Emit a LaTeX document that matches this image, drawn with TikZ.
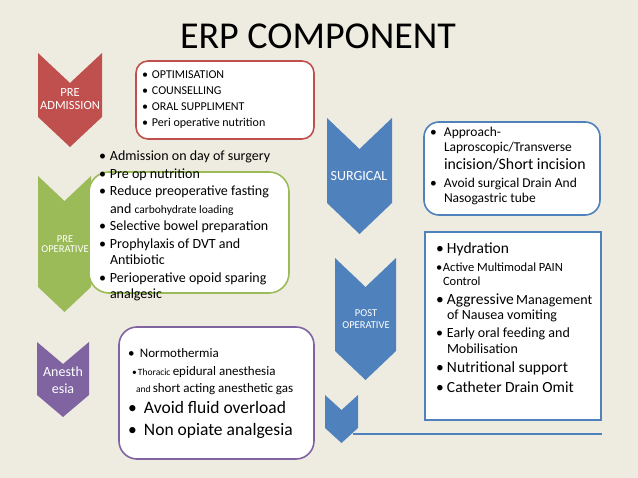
\documentclass[tikz,border=0pt]{standalone}
\usepackage{fontspec}
\setmainfont{Carlito}
\definecolor{bg}{HTML}{EEECE1}
\definecolor{cred}{HTML}{C0504D}
\definecolor{cgreen}{HTML}{9BBB59}
\definecolor{cpurple}{HTML}{8064A2}
\definecolor{cblue}{HTML}{4F81BD}
\newcommand\fs[1]{\fontsize{#1}{#1}\selectfont}
\newcommand\bul[1]{\makebox[#1pt][l]{\textbullet}}
\newcommand\mychev[6]{% x1 x2 ytop ybot depth color
  \fill[#6] (#1,#3) -- ({(#1+#2)/2},{#3+#5}) -- (#2,#3) -- (#2,{#4-#5})
    -- ({(#1+#2)/2},#4) -- (#1,{#4-#5}) -- cycle;}
\begin{document}
\begin{tikzpicture}[x=1pt,y=-1pt,
  ln/.style={anchor=base west, inner sep=0pt, outer sep=0pt, text=black},
  chevtxt/.style={anchor=base, inner sep=0pt, outer sep=0pt, text=white},
  panel/.style={draw=#1, line width=1.6pt, fill=white}]
\fill[bg] (0,0) rectangle (638,478);
\useasboundingbox (0,0) rectangle (638,478);

% title
\node[anchor=base, inner sep=0pt] (title) at (318,49) {\fs{38}ERP COMPONENT};

% chevrons
\mychev{38}{102}{53}{147}{30}{cred}
\mychev{38}{91}{176}{312}{25}{cgreen}
\mychev{37}{89}{342}{417}{22}{cpurple}
\mychev{327}{392}{118}{234}{31}{cblue}
\mychev{335}{396}{258}{380}{29}{cblue}
\mychev{325}{358}{395}{443}{15}{cblue}

% panels
\draw[panel=cred, rounded corners=12pt] (136,61) rectangle (314,139);
\draw[panel=cgreen, rounded corners=20pt] (89,172) rectangle (289,293);
\draw[panel=cpurple, rounded corners=18pt] (119,327) rectangle (314,459);
\draw[panel=cblue, rounded corners=15pt] (424,122) rectangle (600,215);
\draw[panel=cblue] (425,232) rectangle (601,420);
\coordinate (lineA) at (353,434);
\coordinate (lineB) at (602,434);
\draw[cblue, line width=1.6pt] (lineA) -- (lineB);

% chevron labels
\node[chevtxt] (pa1) at (70,97) {\fs{12.5}PRE};
\node[chevtxt] (pa2) at (70,110) {\fs{12.5}ADMISSION};
\node[chevtxt] (po1) at (65,242.5) {\fs{10.5}PRE};
\node[chevtxt] (po2) at (65,253) {\fs{10.5}OPERATIVE};
\node[chevtxt] (an1) at (63,377) {\fs{14}Anesth};
\node[chevtxt] (an2) at (63,394) {\fs{14}esia};
\node[chevtxt] (su1) at (359,181) {\fs{14}SURGICAL};
\node[chevtxt] (pt1) at (366,317) {\fs{10.5}POST};
\node[chevtxt] (pt2) at (366,329) {\fs{10.5}OPERATIVE};

% red panel text
\node[ln] (r1) at (142,79) {\fs{12}\bul{10}OPTIMISATION};
\node[ln] (r2) at (142,95) {\fs{12}\bul{10}COUNSELLING};
\node[ln] (r3) at (142,111) {\fs{12}\bul{10}ORAL SUPPLIMENT};
\node[ln] (r4) at (142,127) {\fs{12}\bul{10}Peri operative nutrition};

% green panel text
\node[ln] (g1) at (99,160.5) {\fs{14}\bul{11}Admission on day of surgery};
\node[ln] (g2) at (99,178.5) {\fs{14}\bul{11}Pre op nutrition};
\node[ln] (g3) at (99,196) {\fs{14}\bul{11}Reduce preoperative fasting};
\node[ln] (g4) at (110,213.5) {\fs{14}and {\fs{11.5}carbohydrate loading}};
\node[ln] (g5) at (99,230.5) {\fs{14}\bul{11}Selective bowel preparation};
\node[ln] (g6) at (99,248.5) {\fs{14}\bul{11}Prophylaxis of DVT and};
\node[ln] (g7) at (110,264.5) {\fs{14}Antibiotic};
\node[ln] (g8) at (99,282.5) {\fs{14}\bul{11}Perioperative opoid sparing};
\node[ln] (g9) at (110,298.5) {\fs{14}analgesic};

% purple panel text
\node[ln] (p1) at (128,358) {\fs{13}\bul{12}Normothermia};
\node[ln] (p2) at (132,376) {{\fs{9.5}\bul{6}Thoracic} {\fs{13}epidural anesthesia}};
\node[ln] (p3) at (136,393) {{\fs{9.5}and} {\fs{13}short acting anesthetic gas}};
\node[ln] (p4) at (128,414) {\fs{17.5}\bul{16}Avoid fluid overload};
\node[ln] (p5) at (128,436) {\fs{17.5}\bul{16}Non opiate analgesia};

% surgical panel text
\node[ln] (s1) at (430,137) {\fs{13.5}\bul{14}Approach-};
\node[ln] (s2) at (444,152) {\fs{13.5}Laproscopic/Transverse};
\node[ln] (s3) at (444,170) {\fs{15.8}incision/Short incision};
\node[ln] (s4) at (430,188) {\fs{13.5}\bul{14}Avoid surgical Drain And};
\node[ln] (s5) at (444,203) {\fs{13.5}Nasogastric tube};

% post-operative panel text
\node[ln] (q1) at (436,254) {\fs{15.5}\bul{11}Hydration};
\node[ln] (q2) at (436,272) {\fs{12.5}\bul{7}Active Multimodal PAIN};
\node[ln] (q3) at (443,286) {\fs{12.5}Control};
\node[ln] (q4) at (436,305) {{\fs{15.5}\bul{11}Aggressive} {\fs{14}Management}};
\node[ln] (q5) at (447,320) {\fs{14}of Nausea vomiting};
\node[ln] (q6) at (436,338) {\fs{14}\bul{11}Early oral feeding and};
\node[ln] (q7) at (447,354) {\fs{14}Mobilisation};
\node[ln] (q8) at (436,373) {\fs{15.5}\bul{11}Nutritional support};
\node[ln] (q9) at (436,393) {\fs{15.5}\bul{11}Catheter Drain Omit};
\end{tikzpicture}
\end{document}
